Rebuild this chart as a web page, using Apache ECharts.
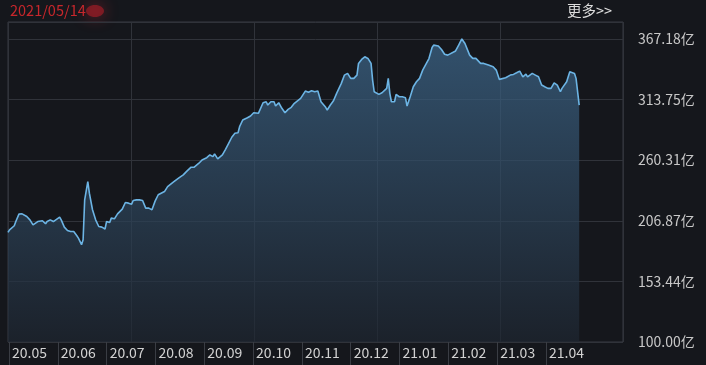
<!DOCTYPE html>
<html><head><meta charset="utf-8">
<script src="https://cdn.jsdelivr.net/npm/echarts@6/dist/echarts.min.js"></script>
<style>html,body{margin:0;padding:0;background:#15171c}#c{width:706px;height:365px}</style>
</head><body><div id="c"></div>
<script>
// days since 2020-05-14
const dayOffsets=[0,1,4,5,7,9,10,12,13,14,16,17,19,22,24,25,27,29,30,33,34,36,38,40,42,44,45,47,48,49,51,52,54,56,58,60,62,63,65,66,68,70,73,75,77,79,80,82,84,86,88,90,92,94,96,97,100,102,106,109,112,114,117,119,122,124,127,129,131,132,134,137,139,141,143,145,147,148,150,153,155,157,160,161,163,165,166,168,170,171,173,175,177,179,181,183,187,190,192,194,196,198,200,203,204,206,208,210,213,215,217,219,221,223,224,226,228,230,232,233,234,237,239,242,243,244,245,247,248,250,252,254,255,257,259,261,263,265,269,271,272,275,277,279,281,282,286,288,290,292,293,295,297,299,302,304,307,310,312,314,318,321,323,325,327,329,331,332,335,337,339,341,343,345,347,349,351,353,354,357,359,360,362,363,365];
const values=[196.6,198.9,202.5,206.2,212.7,213.0,212.1,210.6,211.3,207.7,203.3,204.2,206.2,206.9,204.2,206.2,207.7,206.2,207.1,210.1,207.7,201.3,198.3,197.4,197.4,193.7,191.6,185.8,190.1,225.3,241.4,231.2,216.6,207.7,201.8,201.3,199.6,206.2,205.4,209.2,208.6,213.0,217.1,223.0,222.4,221.5,224.7,225.3,225.3,224.7,218.0,218.0,216.5,224.2,229.8,231.2,232.6,237.0,241.4,244.4,247.3,250.2,254.1,254.1,257.6,260.5,262.5,264.9,263.4,265.8,261.4,264.9,269.9,275.2,280.5,284.0,284.5,289.8,295.7,297.7,299.2,302.1,301.6,303.0,310.9,311.8,308.9,311.8,311.8,308.0,310.9,306.0,302.1,305.1,306.9,310.4,314.8,321.2,320.1,321.5,320.6,321.2,311.8,306.9,304.5,308.9,312.7,319.2,328.0,335.3,336.8,332.4,332.4,335.3,345.6,349.1,351.4,350.0,345.6,330.9,320.6,318.3,319.7,323.6,332.4,319.2,311.8,311.8,318.3,316.2,316.2,315.3,308.0,316.2,325.0,329.4,332.4,339.7,349.9,359.6,361.7,361.0,357.9,353.7,352.9,352.9,356.6,361.7,367.18,363.2,361.7,352.9,350.0,350.0,345.6,345.6,344.1,342.6,339.7,331.5,332.9,335.3,335.9,337.3,338.8,333.8,336.1,333.8,336.8,335.3,333.8,326.5,325.0,323.6,323.6,328.5,326.5,320.6,323.6,329.4,338.2,336.8,336.8,332.4,308.9];
const monthLabels=['20.05','20.06','20.07','20.08','20.09','20.10','20.11','20.12','21.01','21.02','21.03','21.04'];
const yTickValues=[100,153.44,206.87,260.31,313.75,367.18];
const yTickLabels=['100.00亿','153.44亿','206.87亿','260.31亿','313.75亿','367.18亿'];
const dateLabel='2021/05/14';
const moreLabel='更多>>';

const gridColor='#30333a';
const font='"Noto Sans CJK SC","Noto Sans",sans-serif';
const chart=echarts.init(document.getElementById('c'));
const seriesData=dayOffsets.map((d,i)=>[d,values[i]]);
chart.setOption({
  backgroundColor:'#15171c',
  animation:false,
  grid:[
    {left:8,right:83,top:22,bottom:23,show:true,borderColor:'#383b42',borderWidth:1,backgroundColor:'transparent'},
    {left:9,width:537,top:342,height:23}
  ],
  xAxis:[
    {type:'value',gridIndex:0,min:0,max:393,interval:78.6,axisLine:{show:false},axisTick:{show:false},axisLabel:{show:false},splitLine:{show:true,lineStyle:{color:gridColor,width:1}}},
    {type:'category',gridIndex:1,data:monthLabels,boundaryGap:false,position:'top',axisLine:{show:false},axisTick:{show:false},
      axisLabel:{inside:true,interval:0,align:'left',margin:4,padding:[0,0,0,3],color:'#d2d2d2',fontSize:14,fontFamily:font,hideOverlap:false,showMaxLabel:true,showMinLabel:true},
      splitLine:{show:true,interval:0,lineStyle:{color:'#3a3d44',width:1}}}
  ],
  yAxis:[
    {type:'value',gridIndex:0,position:'right',min:100,max:382.1,interval:53.436,axisLine:{show:false},axisTick:{show:false},
      splitLine:{show:true,lineStyle:{color:gridColor,width:1}},
      axisLabel:{margin:15,color:'#c8c8c8',fontSize:14,fontFamily:font,showMaxLabel:true,padding:[2,0,0,0],
        formatter:function(v){for(let i=0;i<yTickValues.length;i++){if(Math.abs(v-yTickValues[i])<1)return yTickLabels[i];}return '';}}},
    {type:'value',gridIndex:1,show:false,min:0,max:1}
  ],
  series:[{
    type:'line',xAxisIndex:0,yAxisIndex:0,data:seriesData,showSymbol:false,smooth:false,
    lineStyle:{color:'#6cb4e4',width:1.6},
    areaStyle:{origin:'start',color:new echarts.graphic.LinearGradient(0,0,0,1,[{offset:0,color:'#3f6a8f'},{offset:1,color:'#1e2631'}])}
  }],
  graphic:[
    {type:'ellipse',shape:{cx:95,cy:11,rx:9,ry:6},style:{fill:'rgba(190,30,40,0.55)',shadowBlur:16,shadowColor:'rgba(220,40,50,0.9)'}},
    {type:'text',left:10,top:3,style:{text:dateLabel,fill:'#c8272c',fontSize:14.5,fontFamily:font}},
    {type:'text',left:567,top:3,style:{text:moreLabel,fill:'#dcdcdc',fontSize:14.5,fontFamily:font}}
  ]
});
</script></body></html>
